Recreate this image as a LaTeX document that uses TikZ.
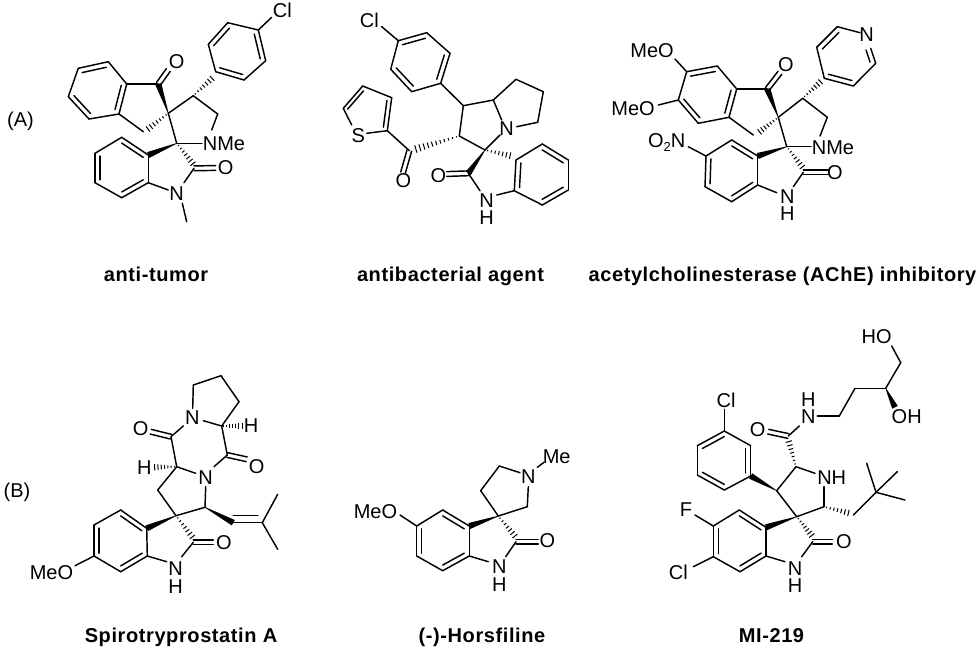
\documentclass[tikz,border=0pt]{standalone}
\usepackage{fontspec}
\setmainfont{Liberation Sans}
\newfontfamily\capfont[LetterSpace=3]{Liberation Sans Bold}
\usetikzlibrary{calc}
\newcommand{\bnd}[2]{\draw[bond] (#1) -- (#2);}
\newcommand{\arm}[3]{\draw[bond] (#1) -- (#2); \draw[bond] ($(#1)!0.19!(#3)$) -- ($(#2)!0.19!(#3)$);}
\newcommand{\dbo}[2]{\draw[bond] ($(#1)!2.4pt!90:(#2)$) -- ($(#2)!2.4pt!-90:(#1)$); \draw[bond] ($(#1)!2.4pt!-90:(#2)$) -- ($(#2)!2.4pt!90:(#1)$);}
\newcommand{\wdg}[2]{\fill ($(#1)!0.3pt!90:(#2)$) -- ($(#2)!3.1pt!-90:(#1)$) -- ($(#2)!3.1pt!90:(#1)$) -- ($(#1)!0.3pt!-90:(#2)$) -- cycle;}
\newcommand{\hsh}[2]{\foreach \t [evaluate=\t as \W using 0.4+3.0*\t] in {0.1,0.24,0.38,0.52,0.66,0.8,0.94}{\draw[hashline] ($(#1)!\t!(#2)!\W pt!90:(#2)$) -- ($(#1)!\t!(#2)!\W pt!-90:(#2)$);}}
\newcommand{\hshl}[2]{\foreach \t [evaluate=\t as \W using 0.4+3.6*\t] in {0.06,0.15,0.24,0.33,0.42,0.51,0.6,0.69,0.78,0.87,0.96}{\draw[hashline] ($(#1)!\t!(#2)!\W pt!90:(#2)$) -- ($(#1)!\t!(#2)!\W pt!-90:(#2)$);}}
\newcommand{\pts}[1]{\foreach \n/\x/\y in {#1}{\coordinate (\n) at (\x,\y);}}
\newcommand{\bnds}[1]{\foreach \p/\q in {#1}{\bnd{\p}{\q}}}
\tikzset{
  bond/.style={line width=1.45pt,line cap=round,line join=round},
  hashline/.style={line width=1pt},
  atom/.style={inner sep=0pt,font=\fontsize{20}{22}\selectfont},
  atomr/.style={atom,anchor=east},
  atomv/.style={inner sep=0pt,align=center,font=\fontsize{20}{17.5}\selectfont},
  caption/.style={inner sep=0pt,anchor=base,font=\capfont\fontsize{20}{24}\selectfont},
  tag/.style={inner sep=0pt,font=\fontsize{20}{24}\selectfont}
}
\begin{document}
\begin{tikzpicture}[x=1pt,y=-1pt]
\useasboundingbox (0,0) rectangle (980,649);
\node[tag] (tagA) at (20.5,121) {(A)};
\node[tag] (tagB) at (17,492) {(B)};
% ---------- molecule 1
\pts{a1/258.3/30,a2/227.7/22.7,a3/208.3/44.3,a4/215.7/71.7,a5/244/80,a6/265.7/60.7,aA/237/51,
aClb/271.7/17.3,a7/193.3/95.7,a4h/213.3/77.3,a8/217.7/114,a9/211.7/130,a10/168.3/113.3,a11/176.7/143.3,a12/202/143.3,
a13/158.3/84,a14/168.3/70,a15/126.7/84,a16/108.3/61.7,a17/78.3/68.3,a18/68.3/96.7,a19/89/119,a20/119/114,a21/143.3/131.7,aB/98/91,a22/146.7/130,
a23/148.3/155,a24/121.7/137.3,a25/95/153.3,a26/95/182.7,a27/121.7/197.7,a28/148.3/182.7,aC/121.7/167.5,
a29/168.3/190,a30/194/168.3,a31/184/182.7,a33/215.7/168,a34/194/165,a35/182.3/203.3,a36/186.7/221.7}
\bnds{a1/a2,a3/a4,a5/a6,a1/aClb,a7/a8,a8/a9,a10/a7,a10/a11,a11/a12,a13/a15,a15/a16,a17/a18,a19/a20,a20/a21,a23/a28,a24/a25,a26/a27,a28/a29,a30/a31,a35/a36}
\arm{a2}{a3}{aA}\arm{a4}{a5}{aA}\arm{a1}{a6}{aA}
\arm{a15}{a20}{aB}\arm{a16}{a17}{aB}\arm{a18}{a19}{aB}
\arm{a23}{a24}{aC}\arm{a25}{a26}{aC}\arm{a27}{a28}{aC}
\wdg{a10}{a13}\wdg{a11}{a23}\hsh{a7}{a4h}\hsh{a10}{a22}\hsh{a11}{a34}
\dbo{a13}{a14}\dbo{a30}{a33}
\node[atom] (aCl) at (282.3,10) {Cl};
\node[atom] (aO1) at (176.7,61.7) {O};
\node[atom] (aNMe) at (224,143.3) {NMe};
\node[atom] (aO2) at (225.7,167.7) {O};
\node[atom] (aN) at (176.7,193.3) {N};
% ---------- molecule 2
\pts{b1/398.3/40.7,b2/426.7/32.7,b3/450/53.3,b4/440.7/83.3,b5/411.7/91.7,b6/390.7/69.3,bA/420/62,bClb/381.7/26.7,
b7/463.3/105.7,b8/493.3/100,b9/516/79.3,b10/543.3/91.7,b11/537.7/122.3,b12/516.7/126.7,b13/501.7/120,b14/459.3/136,b15/485/150,b16/500/135,
b17/409.3/150.7,b18/387.3/130.7,b19/391.7/97.7,b20/362.7/86,b21/343.3/108.3,b22/351.7/125,b23/366.7/133.3,bT/366.7/112,b24/403/172.7,
b25/468.3/173.3,b26/446.7/174,b27/480/190.7,b28/496.7/195,b29/514.3/190.7,b30/516/160,b31/542.3/144,b32/568.3/160,b33/568.3/190,b34/542.3/205,bB/541.7/175,b35/511.7/156,b36/414/149.5}
\bnds{b1/bClb,b1/b6,b2/b3,b4/b5,b4/b7,b7/b8,b8/b9,b9/b10,b10/b11,b11/b12,b8/b13,b7/b14,b14/b15,b15/b16,b17/b18,b22/b21,b23/b18,b20/b19,b25/b27,b28/b29,b30/b31,b32/b33,b34/b29}
\arm{b1}{b2}{bA}\arm{b3}{b4}{bA}\arm{b5}{b6}{bA}
\arm{b18}{b19}{bT}\arm{b20}{b21}{bT}
\arm{b30}{b29}{bB}\arm{b31}{b32}{bB}\arm{b33}{b34}{bB}
\wdg{b15}{b25}\hshl{b14}{b36}\hsh{b15}{b35}\dbo{b17}{b24}\dbo{b25}{b26}
\node[atom] (bCl) at (369.3,20.7) {Cl};
\node[atom] (bS) at (358.3,136) {S};
\node[atom] (bN) at (506.7,128.3) {N};
\node[atom] (bO1) at (403.3,181) {O};
\node[atom] (bO2) at (438.3,175.7) {O};
\node[atomv] (bNH) at (486.7,209) {N\\H};
% ---------- molecule 3
\pts{c1/824.3/78.3,c2/816.7/47.3,c3/837.3/26.7,c4/860/32.7,c5/870.7/48.3,c6/875.7/63.3,c7/853.3/86,cA/846/57,
c8/802.7/98.3,c9/821.7/80.7,c10/827.3/117.3,c11/820/136,c12/778.3/117.3,c13/786.7/146.7,c14/811/146.7,
c15/767.3/89,c16/780/72.7,c17/736.7/89,c18/717.3/66,c19/686.7/71.7,c20/678.3/100,c21/698.3/123.3,c22/729/117.3,c23/753.3/135,c24/758.3/132.7,cB/707/95,
c25/675/59,c26/658.3/105,c27/688.3/146.7,
c28/706/156,c29/731.7/140,c30/757.7/156,c31/757.7/185,c32/731.7/201.7,c33/705/186.7,cC/731.7/171,
c34/776.7/192.7,c35/803.3/172.3,c36/793.3/186.7,c37/828.3/172.3,c38/803.3/168.3}
\bnds{c1/c2,c3/c4,c6/c7,c8/c10,c10/c11,c8/c12,c12/c13,c13/c14,c15/c17,c17/c18,c19/c20,c21/c22,c22/c23,c25/c19,c26/c20,c27/c28,c29/c28,c30/c31,c32/c33,c31/c34,c35/c36}
\arm{c2}{c3}{cA}\arm{c5}{c6}{cA}\arm{c7}{c1}{cA}
\arm{c18}{c19}{cB}\arm{c20}{c21}{cB}\arm{c17}{c22}{cB}
\arm{c29}{c30}{cC}\arm{c28}{c33}{cC}\arm{c31}{c32}{cC}
\wdg{c12}{c15}\wdg{c13}{c30}\hsh{c8}{c9}\hsh{c12}{c24}\hsh{c13}{c38}\dbo{c15}{c16}\dbo{c35}{c37}
\node[atom] (cN1) at (866.7,35) {N};
\node[atom] (cO1) at (786,65) {O};
\node[atomr] (cM1) at (674,50.7) {MeO};
\node[atomr] (cM2) at (655,108.3) {MeO};
\node[atomr] (cNO) at (685.5,143) {O\raisebox{-4pt}{\fontsize{13}{13}\selectfont 2}N};
\node[atom] (cNMe) at (833,147.3) {NMe};
\node[atom] (cO2) at (835,172.3) {O};
\node[atomv] (cNH) at (787.3,205) {N\\H};
% ---------- molecule 4
\pts{d1/192.7/408.3,d2/193.3/385,d3/221/375.7,d4/239/401.7,d5/221.7/426,d6/203.3/420.7,d7/243.3/426,d8/227.3/455,d9/246.7/459.3,d10/214/466.7,
d11/171/436.7,d12/150.7/431.7,d13/183.3/426,d14/176.7/466.7,d15/153.3/467.3,d16/195.7/473.3,d17/157.7/490,d18/176/515.7,d19/205/507.3,d20/205.7/486.7,
d21/229.3/522.7,d22/262.3/522.7,d23/233.3/515.5,d24/258/515.5,d25/277.7/494.3,d26/277.7/549.3,d27/233.3/522.7,
d28/146.7/528.3,d29/120.7/510,d30/94/525,d31/94/556,d32/120.7/571.7,d33/147.3/556,dA/120.7/541,
d34/75/565.7,d35/166.7/561.7,d36/193.3/542.3,d37/181.7/556.7,d38/213.3/542.3,d39/193.3/538.3}
\bnds{d1/d2,d2/d3,d3/d4,d4/d5,d5/d6,d5/d8,d8/d10,d13/d11,d11/d14,d14/d16,d14/d17,d17/d18,d18/d19,d19/d20,d21/d22,d23/d24,d22/d25,d22/d26,d29/d30,d31/d32,d33/d28,d34/d31,d33/d35,d36/d37}
\arm{d28}{d29}{dA}\arm{d30}{d31}{dA}\arm{d32}{d33}{dA}
\wdg{d19}{d27}\wdg{d18}{d28}\hsh{d5}{d7}\hsh{d14}{d15}\hsh{d18}{d39}\dbo{d8}{d9}\dbo{d11}{d12}\dbo{d36}{d38}
\node[atom] (dN1) at (192.3,417.3) {N};
\node[atom] (dH1) at (251,426) {H};
\node[atom] (dO1) at (256.7,466.7) {O};
\node[atom] (dN2) at (205.7,477.3) {N};
\node[atom] (dO2) at (140.7,428.3) {O};
\node[atom] (dH2) at (144.3,467.3) {H};
\node[atomr] (dMeO) at (73.3,572.7) {MeO};
\node[atomv] (dNH) at (175.7,577.5) {N\\H};
\node[atom] (dO3) at (224,542.3) {O};
% ---------- molecule 5
\pts{e1/537.3/467.3,e2/544/462.3,e3/520/472.7,e4/499.3/466,e5/480.7/490.7,e6/498.3/516,e7/527.3/506.7,e8/528.3/486.7,
e9/469.3/526,e10/442.7/510,e11/416.7/526,e12/416.7/556,e13/442.7/570.7,e14/469.3/556,eA/442.7/541,
e15/400/515,e16/488.3/561.7,e17/516/541.7,e18/505.7/556.7,e19/538.3/541.7,e20/516/537.3}
\bnds{e1/e2,e3/e4,e4/e5,e5/e6,e6/e7,e7/e8,e15/e11,e14/e16,e17/e18,e10/e11,e12/e13,e14/e9}
\arm{e9}{e10}{eA}\arm{e11}{e12}{eA}\arm{e13}{e14}{eA}
\wdg{e6}{e9}\hsh{e6}{e20}\dbo{e17}{e19}
\node[atom] (eMe) at (556.7,456.7) {Me};
\node[atom] (eN1) at (528.3,476.7) {N};
\node[atomr] (eMeO) at (397.3,511.7) {MeO};
\node[atomv] (eNH) at (499.3,575.5) {N\\H};
\node[atom] (eO) at (547.3,541) {O};
% ---------- molecule 6
\pts{f1/891.7/346,f2/900.7/362.7,f3/885.7/388.3,f4/895/407.3,f5/855/388.3,f6/839.3/416,f7/817.3/416,f8/799.3/426,f9/788.3/436,f10/768.3/431.7,f11/796/466.7,f12/788.3/440,f13/815/473.3,
f14/824/486.7,f15/824/506.7,f16/850/513.3,f17/853.3/515,f18/876/492.3,f19/866.7/463.3,f20/897.3/471.7,f21/905/500,f22/776.7/490.7,f23/796.7/516.7,
f24/750.7/476,f25/750.7/445.7,f26/724.3/431,f27/697.3/445.7,f28/697.3/475,f29/724.3/490,f30/724.3/409.3,
f31/766/527.3,f32/739.3/510,f33/713.3/526,f34/713.3/556.7,f35/740/571.7,f36/766/556,fB/740/541,
f37/695/515,f38/693.3/566.7,f39/785/561.7,f40/812.7/541.7,f41/801.7/556.7,f42/832.3/541.7,f43/812.7/536.7,fC/724/460.5}
\bnds{f1/f2,f2/f3,f3/f5,f5/f6,f6/f7,f8/f9,f11/f13,f14/f15,f17/f18,f18/f19,f18/f20,f18/f21,f11/f22,f22/f23,f23/f15,f25/f26,f27/f28,f29/f24,f26/f30,f32/f33,f34/f35,f36/f31,f37/f33,f38/f34,f36/f39,f40/f41}
\arm{f24}{f25}{fC}\arm{f26}{f27}{fC}\arm{f28}{f29}{fC}
\arm{f31}{f32}{fB}\arm{f33}{f34}{fB}\arm{f35}{f36}{fB}
\wdg{f3}{f4}\wdg{f22}{f24}\wdg{f23}{f31}\hsh{f11}{f12}\hsh{f15}{f16}\hsh{f23}{f43}\dbo{f9}{f10}\dbo{f40}{f42}
\node[atom] (fHO) at (876.7,336.7) {HO};
\node[atom] (fOH) at (906.7,416.7) {OH};
\node[atomv] (fHN) at (808.3,408) {H\\N};
\node[atom] (fO1) at (757.7,429.3) {O};
\node[atom] (fNH) at (831.7,477.3) {NH};
\node[atom] (fCl1) at (726,400.7) {Cl};
\node[atom] (fF) at (686,510) {F};
\node[atom] (fCl2) at (678.3,572.3) {Cl};
\node[atomv] (fNH2) at (795,577) {N\\H};
\node[atom] (fO2) at (844,541.7) {O};
% ---------- captions
\node[caption] (cap1) at (156,281) {anti-tumor};
\node[caption] (cap2) at (450.5,281) {antibacterial agent};
\node[caption] (cap3) at (782.5,281) {acetylcholinesterase (AChE) inhibitory};
\node[caption] (cap4) at (181,642) {Spirotryprostatin A};
\node[caption] (cap5) at (482,642) {(-)-Horsfiline};
\node[caption] (cap6) at (771.5,642) {MI-219};
\end{tikzpicture}
\end{document}
